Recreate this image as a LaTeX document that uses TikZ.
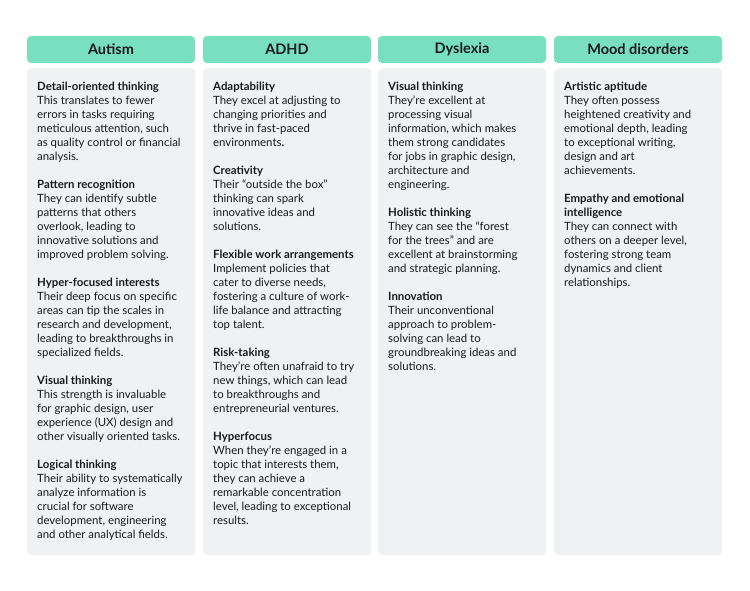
\documentclass[tikz,border=0pt]{standalone}
\usepackage{fontspec}
\setmainfont{Lato}
\definecolor{hdr}{HTML}{78E0BF}
\definecolor{pnl}{HTML}{F0F1F3}
\definecolor{txt}{HTML}{1A1A1A}
\begin{document}
\begin{tikzpicture}[x=1pt,y=1pt,
  hdrbox/.style={fill=hdr,rounded corners=4pt,minimum width=168pt,minimum height=27pt,inner sep=0pt,font=\bfseries\fontsize{14.5}{16}\selectfont,text=txt},
  panelbox/.style={fill=pnl,rounded corners=4pt,minimum width=168pt,minimum height=487pt,inner sep=0pt},
  body/.style={align=left,anchor=north west,inner sep=0pt,text=txt,font=\fontsize{11.4}{14}\selectfont}]
\useasboundingbox (0,0) rectangle (750,-590);
\foreach \x/\t/\n in {27/Autism/a,203/ADHD/b,378/Dyslexia/c,554/Mood disorders/d}{
  \node[hdrbox] (h\n) at (\x+84,-49.5) {\t};
  \node[panelbox,anchor=north west] (p\n) at (\x,-68) {};
}
\node[body] (ta) at ([xshift=10pt,yshift=-13.5pt]pa.north west) {%
\textbf{Detail-oriented thinking}\\This translates to fewer\\errors in tasks requiring\\meticulous attention, such\\as quality control or financial\\analysis.\\[14pt]
\textbf{Pattern recognition}\\They can identify subtle\\patterns that others\\overlook, leading to\\innovative solutions and\\improved problem solving.\\[14pt]
\textbf{Hyper-focused interests}\\Their deep focus on specific\\areas can tip the scales in\\research and development,\\leading to breakthroughs in\\specialized fields.\\[14pt]
\textbf{Visual thinking}\\This strength is invaluable\\for graphic design, user\\experience (UX) design and\\other visually oriented tasks.\\[14pt]
\textbf{Logical thinking}\\Their ability to systematically\\analyze information is\\crucial for software\\development, engineering\\and other analytical fields.};
\node[body] (tb) at ([xshift=10pt,yshift=-13.5pt]pb.north west) {%
\textbf{Adaptability}\\They excel at adjusting to\\changing priorities and\\thrive in fast-paced\\environments\textbf{.}\\[14pt]
\textbf{Creativity}\\Their ``outside the box''\\thinking can spark\\innovative ideas and\\solutions.\\[14pt]
\textbf{Flexible work arrangements}\\Implement policies that\\cater to diverse needs,\\fostering a culture of work-\\life balance and attracting\\top talent.\\[14pt]
\textbf{Risk-taking}\\They're often unafraid to try\\new things, which can lead\\to breakthroughs and\\entrepreneurial ventures.\\[14pt]
\textbf{Hyperfocus}\\When they're engaged in a\\topic that interests them,\\they can achieve a\\remarkable concentration\\level, leading to exceptional\\results.};
\node[body] (tc) at ([xshift=10pt,yshift=-13.5pt]pc.north west) {%
\textbf{Visual thinking}\\They're excellent at\\processing visual\\information, which makes\\them strong candidates\\for jobs in graphic design,\\architecture and\\engineering.\\[14pt]
\textbf{Holistic thinking}\\They can see the ``forest\\for the trees'' and are\\excellent at brainstorming\\and strategic planning.\\[14pt]
\textbf{Innovation}\\Their unconventional\\approach to problem-\\solving can lead to\\groundbreaking ideas and\\solutions.};
\node[body] (td) at ([xshift=10pt,yshift=-13.5pt]pd.north west) {%
\textbf{Artistic aptitude}\\They often possess\\heightened creativity and\\emotional depth, leading\\to exceptional writing,\\design and art\\achievements.\\[14pt]
\textbf{Empathy and emotional}\\\textbf{intelligence}\\They can connect with\\others on a deeper level,\\fostering strong team\\dynamics and client\\relationships.};
\end{tikzpicture}
\end{document}
